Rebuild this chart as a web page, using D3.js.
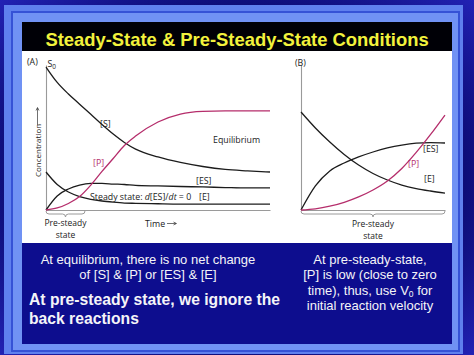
<!DOCTYPE html>
<html>
<head>
<meta charset="utf-8">
<script src="https://cdn.jsdelivr.net/npm/d3@7"></script>
<style>
  body { margin: 0; background: #000; }
  svg { display: block; }
</style>
</head>
<body>
<div id="slide"></div>
<script>
// values (time in % of the axis, concentration in % of the axis height)
var timeA = [0, 5, 10, 15, 20, 25, 30, 35, 40, 50, 60, 70, 80, 90, 100];
var substrateA = [98.6, 88, 80, 73, 66, 59, 52.4, 46.6, 42, 36.6, 32.8, 30, 28, 27, 26.2];
var productA = [0, 1.4, 4.5, 9.3, 17.2, 26.6, 35.5, 44.5, 51, 60.7, 66.2, 68, 68.3, 68.3, 68.3];
var complexA = [0, 9.7, 14.5, 17.2, 18.3, 18.3, 17.9, 17.6, 17, 16.6, 16.2, 15.9, 15.5, 15.2, 15.2];
var enzymeA = [26.2, 17.6, 12.4, 9.3, 7.4, 6.2, 5.4, 4.8, 4.6, 4.3, 4.1, 4.1, 4.1, 4.1, 4.1];

var timeB = [0, 10, 20, 30, 40, 50, 60, 70, 80, 90, 100];
var enzymeB = [67.6, 56.6, 46.9, 38.3, 31, 25.2, 20.7, 17.2, 14.8, 13.1, 11.7];
var complexB = [0, 16.6, 26.9, 32.4, 36.6, 40, 42.8, 44.8, 46.1, 46.5, 46.2];
var productB = [0, 0.8, 2.6, 5.3, 9, 13.8, 20, 28.6, 39.7, 52.1, 65.5];

var preSteadyEndA = 17.4;

var titleText = "Steady-State & Pre-Steady-State Conditions";
var leftNotes = ["At equilibrium, there is no net change", "of [S] & [P] or [ES] & [E]"];
var boldNotes = ["At pre-steady state, we ignore the", "back reactions"];

var width = 474, height = 355;
var black = "#1c1c1c", magenta = "#b52d6b", axisGrey = "#9a9a9a";
var chartFont = "'Open Sans', 'Noto Sans', sans-serif";
var slideFont = "'Liberation Sans', Arial, sans-serif";

var svg = d3.select("#slide")
    .append("svg")
    .attr("width", width)
    .attr("height", height);

// background glow
var defs = svg.append("defs");
var glow = defs.append("radialGradient").attr("id", "glow")
    .attr("cx", "50%").attr("cy", "50%").attr("r", "75%");
glow.append("stop").attr("offset", "0%").attr("stop-color", "#000018");
glow.append("stop").attr("offset", "60%").attr("stop-color", "#0a0a70");
glow.append("stop").attr("offset", "100%").attr("stop-color", "#2626c0");

svg.append("rect").attr("width", width).attr("height", height).attr("fill", "url(#glow)");

// light blue frame
svg.append("rect").attr("x", 4).attr("y", 5).attr("width", 459).attr("height", 349).attr("fill", "#5f80ee");
svg.append("rect").attr("x", 12).attr("y", 12).attr("width", 447).attr("height", 339)
    .attr("fill", "#7092f4").attr("stroke", "#3552d6").attr("stroke-width", 2);

// panels
svg.append("rect").attr("x", 22).attr("y", 22).attr("width", 430).attr("height", 322).attr("fill", "#0d0d8e");
svg.append("rect").attr("x", 22).attr("y", 22).attr("width", 430).attr("height", 29).attr("fill", "#000006");
svg.append("rect").attr("x", 22).attr("y", 51).attr("width", 430).attr("height", 192).attr("fill", "#ffffff");

svg.append("text")
    .attr("x", 237).attr("y", 46)
    .attr("text-anchor", "middle")
    .style("font-family", slideFont).style("font-weight", "bold").style("font-size", "18.4px")
    .style("fill", "#f2f23c")
    .text(titleText);

// scales
var y = d3.scaleLinear().domain([0, 100]).range([210, 65]);
var xA = d3.scaleLinear().domain([0, 100]).range([46, 270]);
var xB = d3.scaleLinear().domain([0, 100]).range([301, 445]);

function drawAxes(x) {
    var gx = svg.append("g").attr("transform", "translate(0," + y(0) + ")")
        .call(d3.axisBottom(x).ticks(0).tickSizeOuter(0));
    var gy = svg.append("g").attr("transform", "translate(" + x(0) + ",0)")
        .call(d3.axisLeft(y).ticks(0).tickSizeOuter(0));
    [gx, gy].forEach(function(g) {
        g.select(".domain").attr("stroke", axisGrey).attr("stroke-width", 1.1);
    });
}
drawAxes(xA);
drawAxes(xB);

function drawCurve(x, times, values, colour) {
    var line = d3.line()
        .x(function(d) { return x(d[0]); })
        .y(function(d) { return y(d[1]); })
        .curve(d3.curveMonotoneX);
    svg.append("path")
        .datum(d3.zip(times, values))
        .attr("d", line)
        .attr("fill", "none")
        .attr("stroke", colour)
        .attr("stroke-width", 1.3);
}

drawCurve(xA, timeA, substrateA, black);
drawCurve(xA, timeA, complexA, black);
drawCurve(xA, timeA, enzymeA, black);
drawCurve(xA, timeA, productA, magenta);

drawCurve(xB, timeB, enzymeB, black);
drawCurve(xB, timeB, complexB, black);
drawCurve(xB, timeB, productB, magenta);

// pre-steady brackets under the time axes
function bracket(x, t0, t1) {
    var a = x(t0), b = x(t1), m = (a + b) / 2, top = y(0) + 1, bot = y(0) + 4;
    svg.append("path")
        .attr("d", "M" + a + "," + top + " Q" + a + "," + bot + " " + (a + 3) + "," + bot +
            " L" + (m - 3) + "," + bot + " Q" + m + "," + bot + " " + m + "," + (bot + 3) +
            " Q" + m + "," + bot + " " + (m + 3) + "," + bot +
            " L" + (b - 3) + "," + bot + " Q" + b + "," + bot + " " + b + "," + top)
        .attr("fill", "none").attr("stroke", axisGrey).attr("stroke-width", 1);
}
bracket(xA, 0, preSteadyEndA);
bracket(xB, 0, 100);

function label(px, py, txt, opts) {
    opts = opts || {};
    return svg.append("text")
        .attr("x", px).attr("y", py)
        .attr("text-anchor", opts.anchor || "start")
        .style("font-family", chartFont)
        .style("font-size", (opts.size || 8.8) + "px")
        .style("fill", opts.colour || "#222")
        .text(txt);
}

// chart A labels
label(27, 65, "(A)");
var s0 = label(47.5, 67, "S");
s0.append("tspan").attr("dy", 2).style("font-size", "6.5px").text("0");
label(100, 127, "[S]");
label(93, 166, "[P]", {colour: magenta});
label(213, 143, "Equilibrium");
label(196, 184, "[ES]");
var ss = label(90, 200, "Steady state: ");
ss.append("tspan").style("font-style", "italic").text("d");
ss.append("tspan").text("[ES]/");
ss.append("tspan").style("font-style", "italic").text("dt");
ss.append("tspan").text(" = 0");
label(199, 200, "[E]");
label(xA(preSteadyEndA / 2), 225.5, "Pre-steady", {anchor: "middle", size: 8.5});
label(xA(preSteadyEndA / 2), 237.5, "state", {anchor: "middle", size: 8.5});
label(145, 226.5, "Time");
svg.append("line").attr("x1", 167).attr("x2", 176).attr("y1", 223.5).attr("y2", 223.5)
    .attr("stroke", "#333").attr("stroke-width", 0.7);
svg.append("path").attr("d", "M173.5,222 L176.5,223.5 L173.5,225").attr("fill", "none")
    .attr("stroke", "#333").attr("stroke-width", 0.7);
label(0, 0, "Concentration", {size: 8})
    .attr("transform", "translate(40.5,177) rotate(-90)");
svg.append("line").attr("x1", 37.5).attr("x2", 37.5).attr("y1", 125).attr("y2", 108)
    .attr("stroke", "#333").attr("stroke-width", 0.7);
svg.append("path").attr("d", "M36,110.5 L37.5,107.5 L39,110.5").attr("fill", "none")
    .attr("stroke", "#333").attr("stroke-width", 0.7);

// chart B labels
label(295, 66, "(B)");
label(423, 152, "[ES]");
label(408, 167, "[P]", {colour: magenta});
label(424, 182, "[E]");
label(xB(50), 226.5, "Pre-steady", {anchor: "middle", size: 8.5});
label(xB(50), 238.5, "state", {anchor: "middle", size: 8.5});

// notes in the blue panel
function note(px, py, txt, size, bold, anchor) {
    return svg.append("text")
        .attr("x", px).attr("y", py)
        .attr("text-anchor", anchor)
        .style("font-family", slideFont)
        .style("font-size", size + "px")
        .style("font-weight", bold ? "bold" : "normal")
        .style("fill", "#f4f4f8")
        .text(txt);
}
note(148, 263.5, leftNotes[0], 13, false, "middle");
note(148, 279.3, leftNotes[1], 13, false, "middle");
note(29, 305, boldNotes[0], 15.7, true, "start");
note(29, 323.5, boldNotes[1], 15.7, true, "start");

note(370, 263.5, "At pre-steady-state,", 13, false, "middle");
note(370, 279, "[P] is low (close to zero", 13, false, "middle");
var v0 = note(370, 294.5, "time), thus, use V", 13, false, "middle");
v0.append("tspan").attr("dy", 2.5).style("font-size", "8.5px").text("0");
v0.append("tspan").attr("dy", -2.5).text(" for");
note(370, 310, "initial reaction velocity", 13, false, "middle");
</script>
</body>
</html>
